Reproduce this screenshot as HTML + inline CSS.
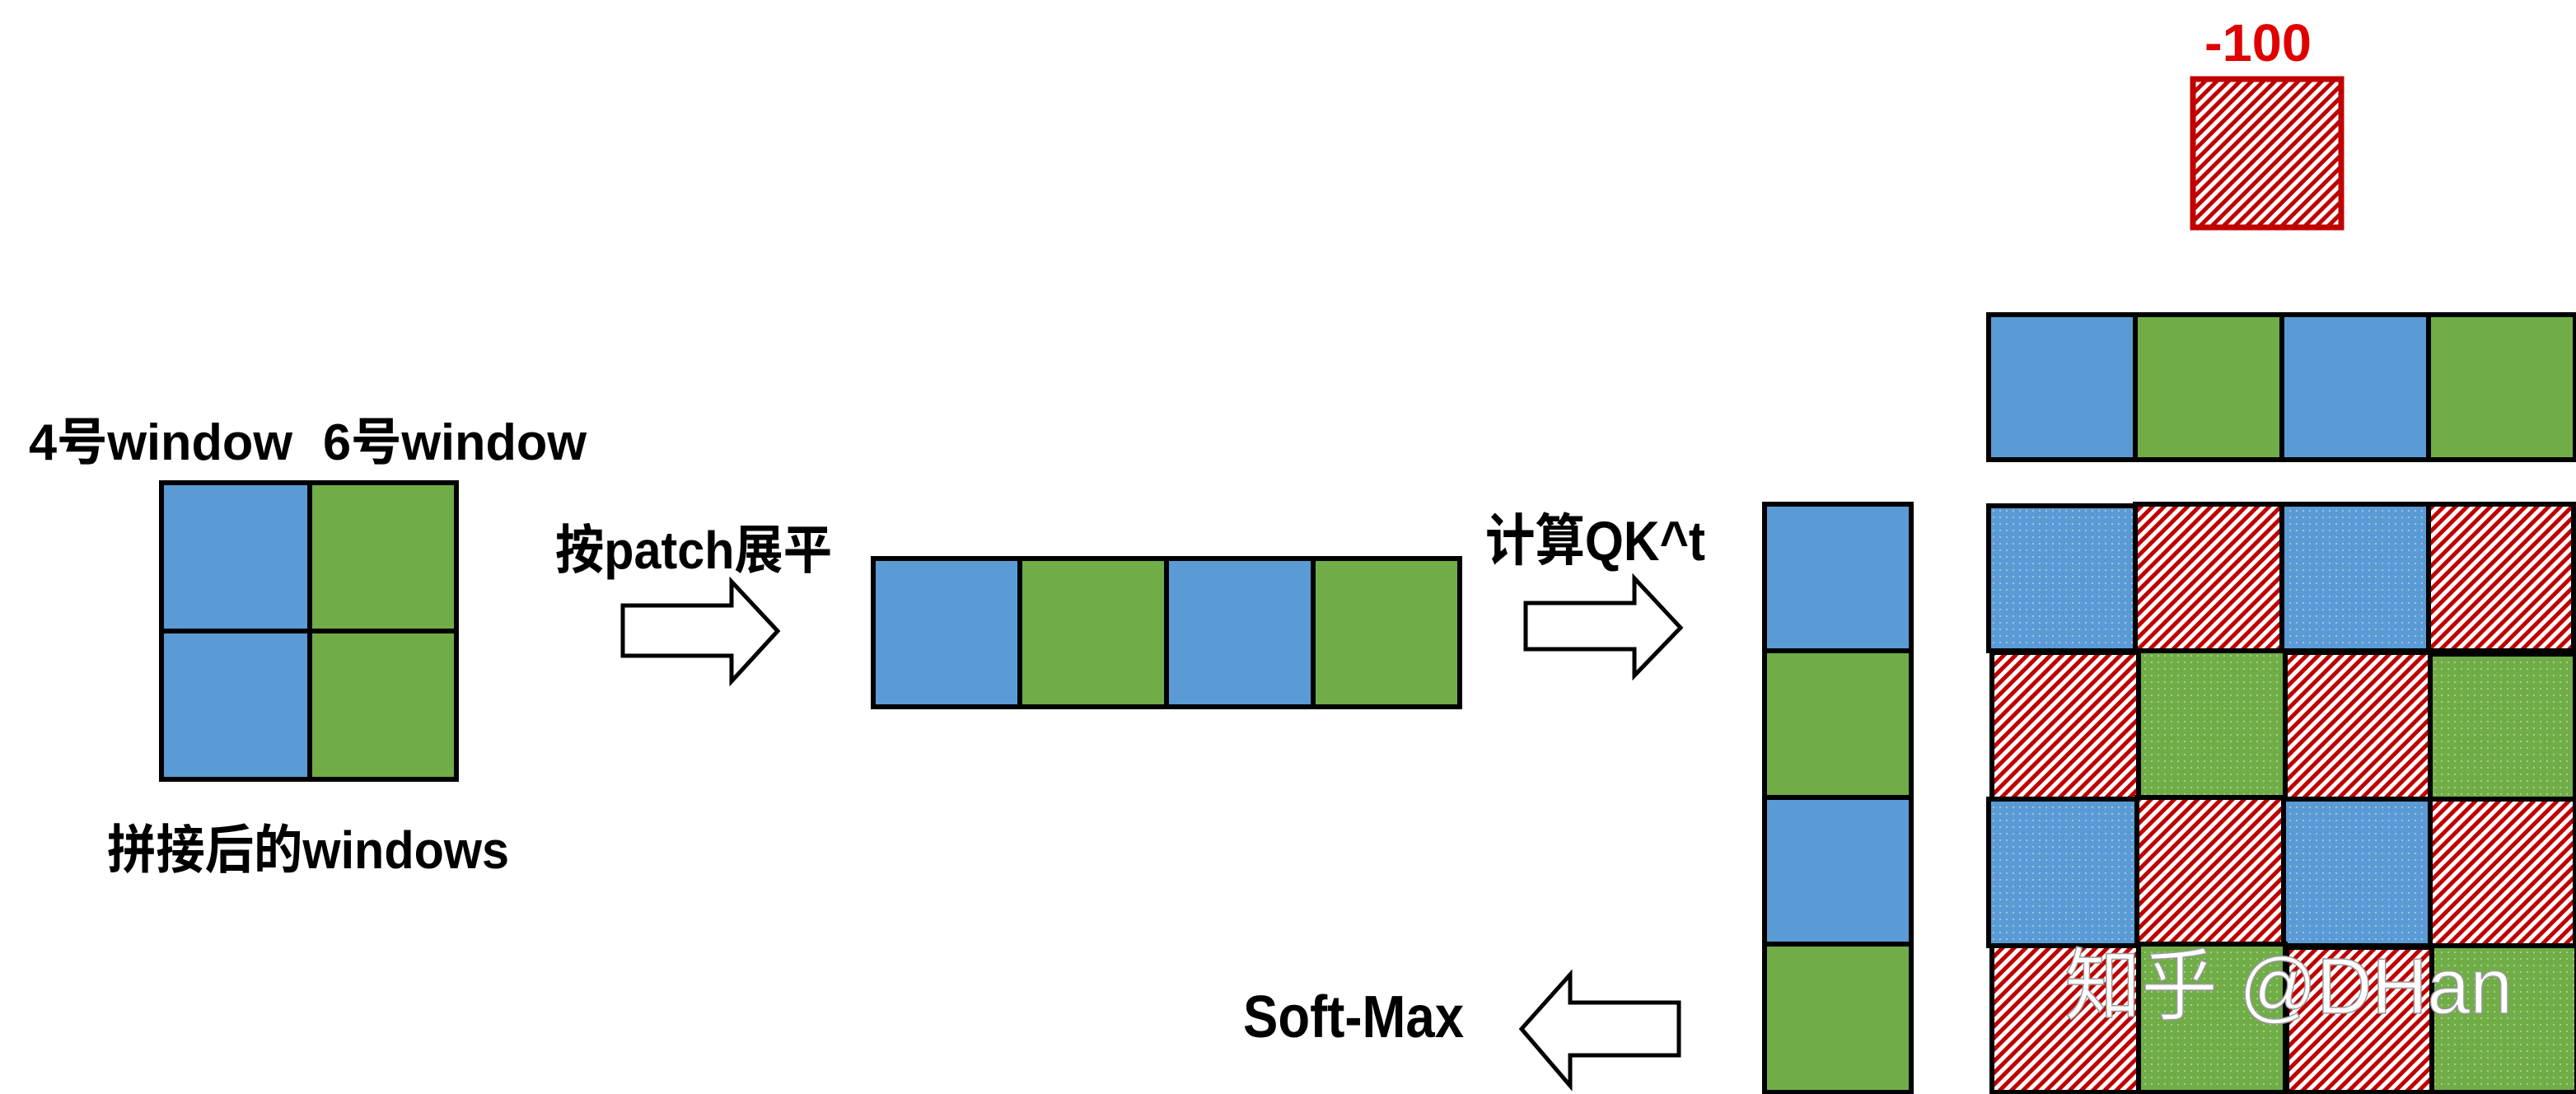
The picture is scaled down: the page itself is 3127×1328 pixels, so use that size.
<!DOCTYPE html>
<html><head><meta charset="utf-8"><style>
html,body{margin:0;padding:0;background:#fff;}
svg{display:block;}
text{font-family:"Liberation Sans","Noto Sans CJK SC",sans-serif;font-weight:bold;}
</style></head><body>
<svg width="3127" height="1328" viewBox="0 0 3127 1328" xmlns="http://www.w3.org/2000/svg">
<defs>
<pattern id="h" width="10" height="10" patternUnits="userSpaceOnUse" patternTransform="rotate(45)">
<rect width="10" height="10" fill="#fff"/><rect width="5" height="10" fill="#c00000"/>
</pattern>
<pattern id="db" width="8" height="8" patternUnits="userSpaceOnUse">
<rect width="8" height="8" fill="#5b9bd5"/><rect x="3" y="3" width="2" height="2" fill="#9cc3e8"/>
</pattern>
<pattern id="dg" width="8" height="8" patternUnits="userSpaceOnUse">
<rect width="8" height="8" fill="#70ad47"/><rect x="3" y="3" width="2" height="2" fill="#a6cf8a"/>
</pattern>
</defs>
<g stroke="#000" stroke-width="6">
<rect x="196" y="586" width="180" height="180" fill="#5b9bd5"/>
<rect x="376" y="586" width="178" height="180" fill="#70ad47"/>
<rect x="196" y="766" width="180" height="180" fill="#5b9bd5"/>
<rect x="376" y="766" width="178" height="180" fill="#70ad47"/>
<rect x="1060" y="678" width="178" height="180" fill="#5b9bd5"/>
<rect x="1238" y="678" width="178" height="180" fill="#70ad47"/>
<rect x="1416" y="678" width="178" height="180" fill="#5b9bd5"/>
<rect x="1594" y="678" width="178" height="180" fill="#70ad47"/>
<rect x="2142" y="612" width="178" height="178" fill="#5b9bd5"/>
<rect x="2142" y="790" width="178" height="178" fill="#70ad47"/>
<rect x="2142" y="968" width="178" height="178" fill="#5b9bd5"/>
<rect x="2142" y="1146" width="178" height="180" fill="#70ad47"/>
<rect x="2414" y="382" width="178" height="176" fill="#5b9bd5"/>
<rect x="2592" y="382" width="178" height="176" fill="#70ad47"/>
<rect x="2770" y="382" width="178" height="176" fill="#5b9bd5"/>
<rect x="2948" y="382" width="178" height="176" fill="#70ad47"/>
<rect x="2414" y="614" width="178" height="176" fill="url(#db)"/>
<rect x="2592" y="612" width="178" height="178" fill="url(#h)"/>
<rect x="2770" y="612" width="178" height="178" fill="url(#db)"/>
<rect x="2948" y="612" width="176" height="178" fill="url(#h)"/>
<rect x="2418" y="792" width="178" height="178" fill="url(#h)"/>
<rect x="2596" y="790" width="178" height="178" fill="url(#dg)"/>
<rect x="2774" y="792" width="176" height="178" fill="url(#h)"/>
<rect x="2950" y="794" width="176" height="178" fill="url(#dg)"/>
<rect x="2414" y="970" width="180" height="178" fill="url(#db)"/>
<rect x="2594" y="968" width="178" height="178" fill="url(#h)"/>
<rect x="2772" y="970" width="178" height="178" fill="url(#db)"/>
<rect x="2950" y="970" width="176" height="178" fill="url(#h)"/>
<rect x="2418" y="1148" width="178" height="178" fill="url(#h)"/>
<rect x="2596" y="1146" width="178" height="180" fill="url(#dg)"/>
<rect x="2776" y="1150" width="176" height="176" fill="url(#h)"/>
<rect x="2952" y="1148" width="176" height="178" fill="url(#dg)"/>
<polygon points="756,735 888,735 888,706 944,766 888,827 888,796 756,796" fill="#fff" stroke-width="5"/>
<polygon points="1852,732 1984,732 1984,702 2040,762 1984,820 1984,788 1852,788" fill="#fff" stroke-width="5"/>
<polygon points="2038,1217 1906,1217 1906,1183 1847,1249 1906,1318 1906,1281 2038,1281" fill="#fff" stroke-width="5"/>
</g>
<rect x="2662" y="96" width="180" height="180" fill="url(#h)" stroke="#c00000" stroke-width="7"/>
<text x="2676" y="74" font-size="64" fill="#e00000" textLength="130" lengthAdjust="spacingAndGlyphs">-100</text>
<text x="35" y="558" font-size="62" textLength="320" lengthAdjust="spacingAndGlyphs">4号window</text>
<text x="392" y="558" font-size="62" textLength="320" lengthAdjust="spacingAndGlyphs">6号window</text>
<text x="130" y="1054" font-size="64" textLength="488" lengthAdjust="spacingAndGlyphs">拼接后的windows</text>
<text x="674" y="690" font-size="64" textLength="336" lengthAdjust="spacingAndGlyphs">按patch展平</text>
<text x="1803" y="680" font-size="68" textLength="267" lengthAdjust="spacingAndGlyphs">计算QK^t</text>
<text x="1509" y="1259" font-size="72" textLength="268" lengthAdjust="spacingAndGlyphs">Soft-Max</text>
<text x="2506" y="1230" font-size="96" fill="#fff" stroke="#999" stroke-width="1.5" style="font-weight:normal" textLength="544" lengthAdjust="spacingAndGlyphs">知乎 @DHan</text>
</svg>
</body></html>
